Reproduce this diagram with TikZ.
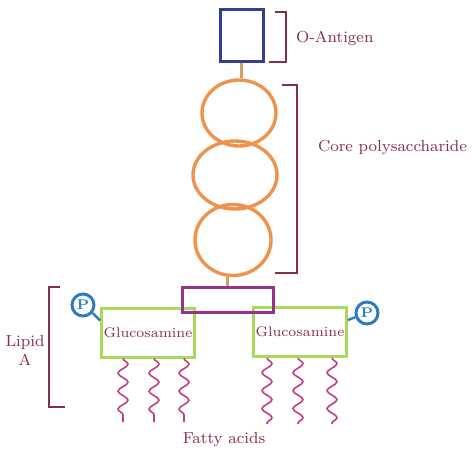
\documentclass[tikz,border=0pt]{standalone}
\usetikzlibrary{
  shapes,
  positioning,              % Function "of"
  decorations.pathmorphing, % Wavy fatty acid chains
  calc                      % Calculations $...$
}
\definecolor{antigenblue}{RGB}{50,64,145}
\definecolor{stemtan}{RGB}{205,162,98}
\definecolor{coreorange}{RGB}{238,146,76}
\definecolor{linkpurple}{RGB}{150,50,140}
\definecolor{glucogreen}{RGB}{168,216,92}
\definecolor{phosblue}{RGB}{45,125,190}
\definecolor{acidpink}{RGB}{192,62,136}
\definecolor{labelred}{RGB}{135,45,70}
\def\mylw{1.5pt}
\tikzset{
  font=\footnotesize,
  x=0.5pt, y=-0.5pt,
  line join=round,
  line cap=round,
  my antigen/.style={
    draw=antigenblue,
    line width=\mylw,
    rectangle,
    minimum width=21.5pt,
    minimum height=26pt
  },
  my sugar/.style={
    draw=coreorange,
    line width=1.7pt,
    ellipse,
    inner sep=0pt
  },
  my link/.style={
    draw=linkpurple,
    line width=\mylw,
    rectangle,
    minimum width=45.5pt,
    minimum height=12.5pt
  },
  my gluco/.style={
    draw=glucogreen,
    line width=\mylw,
    rectangle,
    minimum width=45pt,
    minimum height=24.5pt,
    inner sep=1pt,
    text=labelred,
    font=\scriptsize
  },
  my phos/.style={
    draw=phosblue,
    line width=\mylw,
    circle,
    minimum size=11pt,
    inner sep=0pt,
    text=phosblue,
    font=\scriptsize\bfseries
  },
  stem/.style={draw=stemtan,line width=1.2pt},
  bond/.style={draw=phosblue,line width=1.2pt},
  fatty acid/.style={
    draw=acidpink,
    line width=0.8pt,
    decorate,
    decoration={snake,amplitude=2.5pt,segment length=9pt}
  },
  brack/.style={draw=labelred,line width=0.6pt},
  my label/.style={text=labelred}
}
\begin{document}
\begin{tikzpicture}
\useasboundingbox (0,0) rectangle (474,464);
% O-antigen and core
\node[my antigen] (antigen) at (241.5,36) {};
\node[my sugar,minimum width=37pt,minimum height=33pt] (core1) at (239,113) {};
\node[my sugar,minimum width=42pt,minimum height=34pt] (core2) at (235,175) {};
\node[my sugar,minimum width=38pt,minimum height=35.5pt] (core3) at (233,240) {};
% lipid A
\node[my gluco] (glucoL) at (148,332.5) {Glucosamine};
\node[my gluco] (glucoR) at (300,332) {Glucosamine};
\node[my link] (link) at (227.5,300) {};
\node[my phos] (phosL) at (83,305) {P};
\node[my phos] (phosR) at (367,313) {P};
\path[stem] (antigen.south) -- (antigen.south |- core1.north);
\path[stem] (core3.south -| link.north) -- (link.north);
\path[bond] (phosL.-40) -- ([yshift=-7pt]glucoL.north west);
\path[bond] (phosR.200) -- ([yshift=-7pt]glucoR.north east);
\foreach \fx in {123,154,184}
  \path[fatty acid] (glucoL.south -| \fx,0) -- (\fx,422);
\foreach \fx in {267,298,332}
  \path[fatty acid] (glucoR.south -| \fx,0) -- (\fx,424);
% brackets and labels
\draw[brack] (275,12) -- (286,12) -- (286,62) -- (269,62);
\node[my label,anchor=west] (antigenlab) at (289,38) {O-Antigen};
\draw[brack] (282,85) -- (297,85) -- (297,273) -- (275,273);
\node[my label,anchor=west] (corelab) at (311,148) {Core polysaccharide};
\draw[brack] (60,287) -- (49,287) -- (49,407) -- (65,407);
\node[my label,align=center] (lipidlab) at (25,350) {Lipid\\A};
\node[my label] (acidlab) at (224,440) {Fatty acids};
\end{tikzpicture}
\end{document}
